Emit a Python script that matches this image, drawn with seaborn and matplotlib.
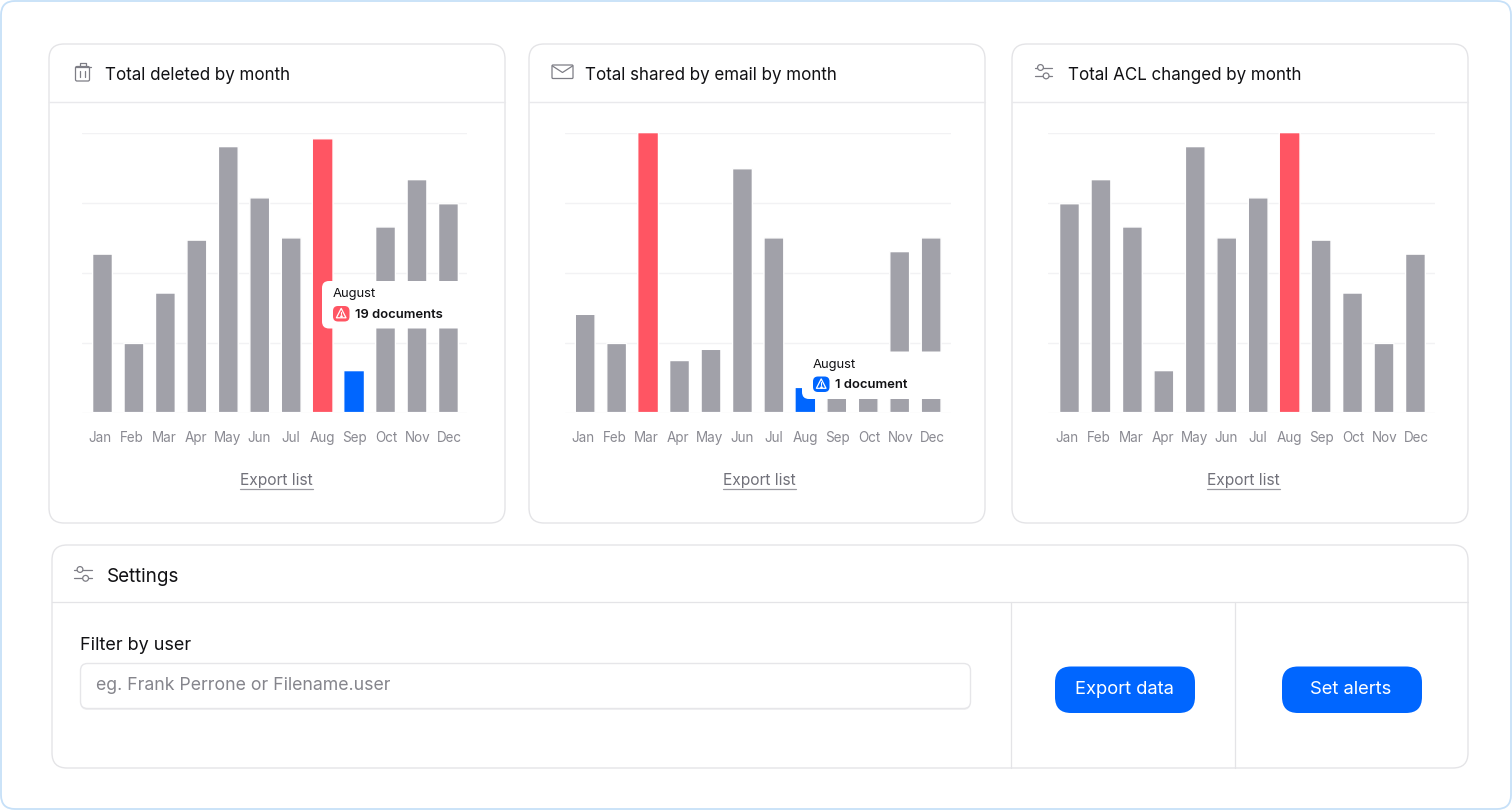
import matplotlib
matplotlib.use("Agg")
import matplotlib.pyplot as plt
import seaborn as sns
import pandas as pd
from matplotlib.patches import FancyBboxPatch, Polygon, Circle

months = ["Jan", "Feb", "Mar", "Apr", "May", "Jun", "Jul", "Aug", "Sep", "Oct", "Nov", "Dec"]
deleted = [56.6, 24.7, 42.7, 61.6, 95.0, 76.7, 62.4, 97.8, 15.0, 66.3, 83.2, 74.6]
shared = [35.1, 24.7, 100.0, 18.6, 22.6, 87.1, 62.4, 9.0, 16.0, 13.0, 57.5, 62.4]
acl = [74.6, 83.2, 66.3, 15.0, 95.0, 62.4, 76.7, 100.0, 61.6, 42.7, 24.7, 56.6]
deleted_colors = {"Aug": "#ff5563", "Sep": "#0066ff"}
shared_colors = {"Mar": "#ff5563", "Aug": "#0066ff"}
acl_colors = {"Aug": "#ff5563"}
titles = ["Total deleted by month", "Total shared by email by month", "Total ACL changed by month"]

W, H = 1512, 810
GREY = "#a1a1a9"
LINE = "#e4e4e7"
BLUE = "#0066ff"
RED = "#ff5563"
FONT = "Inter"

sns.set_theme(style="white")
plt.rcParams["font.family"] = [FONT, "DejaVu Sans"]
fig = plt.figure(figsize=(W / 100, H / 100), dpi=100, facecolor="white")


def full_axes(z):
    a = fig.add_axes([0, 0, 1, 1], zorder=z)
    a.set_xlim(0, W)
    a.set_ylim(H, 0)
    a.axis("off")
    a.patch.set_alpha(0)
    return a


bg = full_axes(0)
ov = full_axes(5)


def rbox(a, x0, y0, x1, y1, r, fc="white", ec="none", lw=1.0, z=1):
    p = FancyBboxPatch((x0, y0), x1 - x0, y1 - y0, boxstyle=f"round,pad=0,rounding_size={r}",
                       fc=fc, ec=ec, lw=lw, zorder=z)
    a.add_patch(p)
    return p


def px(v):
    return v * 0.72


# Outer frame and cards
rbox(bg, 1, 1, 1511, 809, 14, ec="#c6e0f8", lw=1.3)
cards = [(49, 505), (529, 985), (1012, 1468)]
for x0, x1 in cards:
    rbox(bg, x0, 44, x1, 523, 15, ec=LINE, lw=1.0)
    bg.plot([x0, x1], [102, 102], color="#e9e9ec", lw=1.0, zorder=2)

# Settings panel
rbox(bg, 52, 545, 1468, 768, 15, ec=LINE, lw=1.0)
bg.plot([52, 1468], [602, 602], color=LINE, lw=0.9, zorder=2)
for vx in (1011, 1235):
    bg.plot([vx, vx], [602, 768], color=LINE, lw=0.9, zorder=2)


def chart(values, highlights, grid_x0, grid_x1, jan_center):
    step = 31.45
    ax = fig.add_axes([grid_x0 / W, (H - 412.6) / H, (grid_x1 - grid_x0) / W, 280 / H], zorder=2)
    df = pd.DataFrame({"month": months, "value": values})
    palette = {m: highlights.get(m, GREY) for m in months}
    sns.barplot(data=df, x="month", y="value", hue="month", palette=palette, order=months,
                hue_order=months, legend=False, width=0.63, saturation=1, ax=ax, zorder=3)
    for bar, m in zip(ax.patches, months):
        bar.set_snap(False)
        if m in highlights:
            cx = bar.get_x() + bar.get_width() / 2
            bar.set_width(0.66)
            bar.set_x(cx - 0.33)
    ax.set_xlim((grid_x0 - jan_center) / step, (grid_x1 - jan_center) / step)
    ax.set_ylim(0, 100)
    ax.set_yticks([0, 25, 50, 75, 100])
    ax.set_yticklabels([])
    ax.set_xticks([-0.07 + i * 1.01 for i in range(len(months))])
    ax.set_xticklabels(months)
    ax.set_xlabel("")
    ax.set_ylabel("")
    ax.tick_params(axis="x", length=0, pad=13, labelsize=px(13.5), labelcolor="#8a8a92")
    ax.tick_params(axis="y", length=0)
    ax.grid(axis="y", color="#f2f2f4", lw=1.0, zorder=0)
    ax.set_axisbelow(True)
    sns.despine(ax=ax, left=True, bottom=True, top=True, right=True)
    ax.patch.set_alpha(0)
    for lab in ax.get_xticklabels():
        lab.set_fontfamily(FONT)
    return ax


chart(deleted, deleted_colors, 82, 467, 102.5)
chart(shared, shared_colors, 565, 951, 585.2)
chart(acl, acl_colors, 1048, 1435, 1069.5)

# Headers
title_x = [105, 585, 1068]
for tx, t in zip(title_x, titles):
    ov.text(tx, 75, t, fontsize=px(17), color="#111114", va="center", ha="left")
ov.text(107, 577, "Settings", fontsize=px(18.8), color="#111114", va="center", ha="left")

# Export links
for cx in (276, 759, 1243):
    ov.text(cx, 481, "Export list", fontsize=px(15.6), color="#71717a", va="center", ha="center")
    ov.plot([cx - 36.5, cx + 36.5], [489, 489], color="#9a9aa1", lw=0.9)

ICON = "#7d7d85"
ILW = 0.9


def trash(a, x, y):
    a.plot([x, x + 16], [y + 3.5, y + 3.5], color=ICON, lw=ILW, zorder=5)
    a.plot([x + 5, x + 5, x + 11, x + 11], [y + 3.5, y, y, y + 3.5], color=ICON, lw=ILW)
    rbox(a, x + 1, y + 3.5, x + 15, y + 18, 1.5, fc="white", ec=ICON, lw=ILW, z=3)
    a.plot([x + 5.8, x + 5.8], [y + 8, y + 14], color=ICON, lw=ILW, zorder=4)
    a.plot([x + 10.2, x + 10.2], [y + 8, y + 14], color=ICON, lw=ILW, zorder=4)


def envelope(a, x, y):
    rbox(a, x, y, x + 21, y + 13.5, 1, fc="white", ec=ICON, lw=ILW, z=3)
    a.plot([x + 0.5, x + 10.5, x + 20.5], [y + 1, y + 7.5, y + 1], color=ICON, lw=ILW, zorder=4)


def sliders(a, x, y, gap):
    a.plot([x, x + 17.5], [y + 3.5, y + 3.5], color=ICON, lw=ILW, zorder=3)
    a.plot([x, x + 17.5], [y + 3.5 + gap, y + 3.5 + gap], color=ICON, lw=ILW, zorder=3)
    a.add_patch(Circle((x + 6, y + 3.5), 2.9, fc="white", ec=ICON, lw=ILW, zorder=4))
    a.add_patch(Circle((x + 11.6, y + 3.5 + gap), 2.9, fc="white", ec=ICON, lw=ILW, zorder=4))


trash(ov, 74.5, 63)
envelope(ov, 552, 65)
sliders(ov, 1034.5, 64, 8.4)
sliders(ov, 74, 566, 8.8)


def tooltip(x0, x1, y0, text, color):
    rbox(ov, x0, y0, x1, y0 + 47.5, 7, fc="white", z=2)
    ov.text(x0 + 11, y0 + 13.5, "August", fontsize=px(13), color="#111114", va="center", ha="left", zorder=5)
    bx, by = x0 + 11, y0 + 25
    rbox(ov, bx, by, bx + 16.5, by + 15.5, 5, fc=color, z=3)
    ov.add_patch(Polygon([[bx + 8.2, by + 2.4], [bx + 13, by + 11.8], [bx + 3.4, by + 11.8]],
                         closed=True, fc="none", ec="white", lw=0.9, joinstyle="round", zorder=4))
    ov.plot([bx + 8.2, bx + 8.2], [by + 5.6, by + 8.4], color="white", lw=0.8, zorder=4)
    ov.plot([bx + 8.2], [by + 10.1], marker="o", ms=0.9, color="white", zorder=4)
    ov.text(bx + 22, by + 8.8, text, fontsize=px(13), fontweight="semibold", color="#111114",
            va="center", ha="left", zorder=5)


tooltip(322, 476, 281, "19 documents", RED)
tooltip(802, 957, 351.5, "1 document", BLUE)

# Settings form
ov.text(80, 645, "Filter by user", fontsize=px(18), color="#111114", va="center", ha="left")
rbox(ov, 80.5, 665, 970.5, 710, 7, fc="#f0f0f2", z=1)
rbox(ov, 80.5, 663.5, 970.5, 708.5, 7, fc="white", ec="#e6e6e9", lw=1.0, z=2)
ov.text(96, 686, "eg. Frank Perrone or Filename.user", fontsize=px(17.7), color="#85858c",
        va="center", ha="left", zorder=3)

for x0, x1, t in ((1055, 1195, "Export data"), (1282, 1422, "Set alerts")):
    rbox(ov, x0, 666.5, x1, 713, 16, fc=BLUE)
    ov.text((x0 + x1) / 2 - 1, 690, t, fontsize=px(18.4), color="white", va="center", ha="center", zorder=3)

fig.savefig("out.png", dpi=100, facecolor="white")
